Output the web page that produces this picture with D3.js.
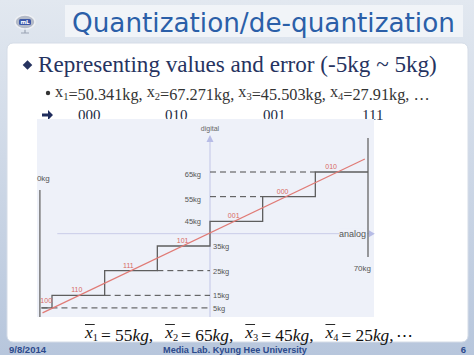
<!DOCTYPE html>
<html>
<head>
<meta charset="utf-8">
<script src="https://cdn.jsdelivr.net/npm/d3@7"></script>
<style>
  body { margin: 0; background: #fff; }
  svg { display: block; }
</style>
</head>
<body>
<svg id="slide" width="474" height="355"></svg>
<script>
const width = 474,
  height = 355;

// quantizer steps: analog interval (kg) covered by each level
const stepFrom = [8, 10, 20, 30, 40, 50, 60];
const stepTo = [10, 20, 30, 40, 50, 60, 70];
// where each level is drawn on the digital axis (the 5kg one sits higher in the picture)
const levelPos = [9.9, 15, 25, 35, 45, 55, 65];
const levelNames = ["5kg", "15kg", "25kg", "35kg", "45kg", "55kg", "65kg"];
const codes = ["100", "110", "111", "101", "001", "000", "010"];
const codeAt = [8.9, 14.7, 24.5, 34.8, 44.5, 53.8, 63];
// dashed guides from a level to the digital axis
const dashFrom = [8, 20, 30, null, null, 40, 40];
const dashTo = [40, 40, 40, null, null, 50, 60];
const ideal = [
  [8.2, 7.9],
  [69.4, 70.3],
];
const axisCross = 40;

const samples = ["50.341", "67.271", "45.503", "27.91"];
const sampleCodes = ["000", "010", "001", "111"];
const means = ["55", "65", "45", "25"];

const svg = d3.select("#slide");

// fit a text element to a target width by scaling its font size
function fitWidth(sel, w) {
  const fs = parseFloat(sel.attr("font-size"));
  const cur = sel.node().getComputedTextLength();
  sel.attr("font-size", (fs * w) / cur);
}

// ---- slide frame ----
const defs = svg.append("defs");
const bg = defs
  .append("linearGradient")
  .attr("id", "bg")
  .attr("x1", 0)
  .attr("y1", 0)
  .attr("x2", 0)
  .attr("y2", 1);
bg.append("stop").attr("offset", 0).attr("stop-color", "#e2e8f0");
bg.append("stop").attr("offset", 1).attr("stop-color", "#b7c6dc");

svg
  .append("rect")
  .attr("width", width)
  .attr("height", height)
  .attr("fill", "url(#bg)");

svg
  .append("rect")
  .attr("x", 65)
  .attr("y", 5)
  .attr("width", 398)
  .attr("height", 32)
  .attr("fill", "#f1f4f8");

svg
  .append("rect")
  .attr("x", 7)
  .attr("y", 43)
  .attr("width", 461)
  .attr("height", 299)
  .attr("rx", 6)
  .attr("fill", "#fff")
  .attr("stroke", "#d5dce7");

// logo
const logo = svg.append("g").attr("transform", "translate(25,22)");
logo
  .append("path")
  .attr("d", "M0,6 L0,11 M-4,11 L4,11")
  .attr("stroke", "#9aa3b3")
  .attr("stroke-width", 1.2);
logo
  .append("ellipse")
  .attr("rx", 10)
  .attr("ry", 7)
  .attr("fill", "#b3bac8")
  .attr("stroke", "#eef0f4")
  .attr("stroke-width", 1.5);
logo
  .append("rect")
  .attr("x", -6)
  .attr("y", -3)
  .attr("width", 12)
  .attr("height", 6)
  .attr("rx", 1.5)
  .attr("fill", "#3d58a8");
logo
  .append("text")
  .attr("y", 2.2)
  .attr("text-anchor", "middle")
  .attr("font-family", "DejaVu Sans")
  .attr("font-size", 5.5)
  .attr("font-weight", "bold")
  .attr("fill", "#fff")
  .text("mL");

// title
const title = svg
  .append("text")
  .attr("x", 72)
  .attr("y", 32)
  .attr("font-family", "DejaVu Sans")
  .attr("font-size", 26)
  .attr("fill", "#2b5fa8")
  .text("Quantization/de-quantization");
fitWidth(title, 383);

// ---- bullet lines ----
svg
  .append("path")
  .attr("transform", "translate(27.5,65) rotate(45)")
  .attr("d", d3.symbol(d3.symbolSquare, 46)())
  .attr("fill", "#26335f");

const line1 = svg
  .append("text")
  .attr("x", 38)
  .attr("y", 72)
  .attr("font-family", "Liberation Serif")
  .attr("font-size", 20)
  .attr("fill", "#26335f")
  .text("Representing values and error (-5kg ~ 5kg)");
fitWidth(line1, 399);

svg
  .append("circle")
  .attr("cx", 48)
  .attr("cy", 93)
  .attr("r", 2.2)
  .attr("fill", "#333");

const line2 = svg
  .append("text")
  .attr("x", 55)
  .attr("y", 97)
  .attr("font-family", "Liberation Serif")
  .attr("font-size", 14)
  .attr("fill", "#333");
samples.forEach((v, i) => {
  line2.append("tspan").attr("dy", i ? -3 : 0).text("x");
  line2
    .append("tspan")
    .attr("dy", 3)
    .attr("font-size", "0.65em")
    .text(i + 1);
  line2
    .append("tspan")
    .attr("dy", 0)
    .text("=" + v + "kg," + (i < samples.length - 1 ? " " : ""));
});
line2.append("tspan").text(" \u2026");
fitWidth(line2, 375);

// arrow and codes row
svg
  .append("path")
  .attr("d", "M42,113.5 L48,113.5 L48,110 L53,115 L48,120 L48,116.5 L42,116.5 Z")
  .attr("fill", "#1f2c5c");

const codeTab = d3.scaleOrdinal().domain(sampleCodes).range([78, 165, 263, 362]);
svg
  .append("g")
  .selectAll("text")
  .data(sampleCodes)
  .join("text")
  .attr("x", (d) => codeTab(d))
  .attr("y", 119.5)
  .attr("font-family", "Liberation Serif")
  .attr("font-size", 15)
  .attr("fill", "#222b45")
  .text((d) => d);

// ---- the quantizer diagram ----
const x = d3.scaleLinear().domain([10, 70]).range([52, 368]);
const y = d3.scaleLinear().domain([5, 65]).range([320, 172]);

const chart = svg.append("g");
chart
  .append("rect")
  .attr("x", 37)
  .attr("y", 119)
  .attr("width", 337)
  .attr("height", 198)
  .attr("fill", "#eef1f9");

const axisColor = "#c9cde9";
// digital (vertical) axis
chart
  .append("line")
  .attr("x1", x(axisCross))
  .attr("x2", x(axisCross))
  .attr("y1", y(6.2))
  .attr("y2", y(77.5))
  .attr("stroke", axisColor)
  .attr("stroke-width", 1.2);
chart
  .append("path")
  .attr("d", `M${x(axisCross)},${y(80)} l-3.5,7 l7,0 Z`)
  .attr("fill", "#b7bce6");
// analog (horizontal) axis
chart
  .append("line")
  .attr("x1", x(11))
  .attr("x2", x(70.3))
  .attr("y1", y(axisCross))
  .attr("y2", y(axisCross))
  .attr("stroke", axisColor)
  .attr("stroke-width", 1);
chart
  .append("path")
  .attr("d", `M${x(71.3)},${y(axisCross)} l-6,-3.5 l0,7 Z`)
  .attr("fill", "#b7bce6");

// frame lines at 0kg and 70kg
chart
  .append("line")
  .attr("x1", x(7.7))
  .attr("x2", x(7.7))
  .attr("y1", y(57.7))
  .attr("y2", y(6.2))
  .attr("stroke", "#7a7a7a")
  .attr("stroke-width", 1.5);
chart
  .append("line")
  .attr("x1", x(70))
  .attr("x2", x(70))
  .attr("y1", y(78.8))
  .attr("y2", y(30.5))
  .attr("stroke", "#666")
  .attr("stroke-width", 1.3);

const labelFont = "Liberation Sans";
chart
  .append("text")
  .attr("x", x(7.7) - 3)
  .attr("y", y(57.7) - 9)
  .attr("font-family", labelFont)
  .attr("font-size", 8)
  .attr("fill", "#555")
  .text("0kg");
chart
  .append("text")
  .attr("x", x(70) + 3)
  .attr("y", y(30.5) + 14)
  .attr("text-anchor", "end")
  .attr("font-family", labelFont)
  .attr("font-size", 8)
  .attr("fill", "#555")
  .text("70kg");
chart
  .append("text")
  .attr("x", x(axisCross))
  .attr("y", 131)
  .attr("text-anchor", "middle")
  .attr("font-family", labelFont)
  .attr("font-size", 7)
  .attr("fill", "#666")
  .text("digital");
chart
  .append("rect")
  .attr("x", 339)
  .attr("y", y(axisCross) - 5)
  .attr("width", 28)
  .attr("height", 10)
  .attr("fill", "#eef1f9");
chart
  .append("text")
  .attr("x", 366)
  .attr("y", y(axisCross) + 3)
  .attr("text-anchor", "end")
  .attr("font-family", labelFont)
  .attr("font-size", 9)
  .attr("fill", "#555")
  .text("analog");

// dashed guides
const guides = d3.range(levelPos.length).filter((i) => dashFrom[i] != null);
chart
  .append("g")
  .selectAll("line")
  .data(guides)
  .join("line")
  .attr("x1", (i) => x(dashFrom[i]))
  .attr("x2", (i) => x(dashTo[i]))
  .attr("y1", (i) => y(levelPos[i]))
  .attr("y2", (i) => y(levelPos[i]))
  .attr("stroke", "#4a4a4a")
  .attr("stroke-width", 1)
  .attr("stroke-dasharray", "6,4");

// level labels
chart
  .append("g")
  .selectAll("text")
  .data(levelNames)
  .join("text")
  .attr("x", (d, i) => (levelPos[i] < axisCross ? x(axisCross) + 3 : x(axisCross) - 9))
  .attr("y", (d, i) => y(levelPos[i]) + (levelPos[i] > 50 ? 5 : 3))
  .attr("text-anchor", (d, i) => (levelPos[i] < axisCross ? "start" : "end"))
  .attr("font-family", labelFont)
  .attr("font-size", 7.5)
  .attr("fill", "#555")
  .text((d) => d);

// staircase
const stairPts = stepFrom.map((f, i) => [f, levelPos[i]]);
stairPts.push([stepTo[stepTo.length - 1], levelPos[levelPos.length - 1]]);
chart
  .append("path")
  .datum(stairPts)
  .attr(
    "d",
    d3
      .line()
      .x((d) => x(d[0]))
      .y((d) => y(d[1]))
      .curve(d3.curveStepAfter)
  )
  .attr("fill", "none")
  .attr("stroke", "#5e5e5e")
  .attr("stroke-width", 1.3);

// ideal (unquantized) line
chart
  .append("path")
  .datum(ideal)
  .attr(
    "d",
    d3
      .line()
      .x((d) => x(d[0]))
      .y((d) => y(d[1]))
  )
  .attr("fill", "none")
  .attr("stroke", "#e07b76")
  .attr("stroke-width", 1.2);

// code words
chart
  .append("g")
  .selectAll("text")
  .data(codes)
  .join("text")
  .attr("x", (d, i) => x(codeAt[i]))
  .attr("y", (d, i) => y(levelPos[i]) - (i === 0 ? 4.5 : 3))
  .attr("text-anchor", "middle")
  .attr("font-family", labelFont)
  .attr("font-size", 7)
  .attr("fill", "#d86a64")
  .text((d) => d);

// ---- de-quantized values ----
const formula = svg
  .append("text")
  .attr("x", 85)
  .attr("y", 338)
  .attr("font-family", "Liberation Serif")
  .attr("font-size", 16)
  .attr("fill", "#111");
const xSpans = [];
means.forEach((m, i) => {
  const xs = formula
    .append("tspan")
    .attr("dx", i ? 12 : 0)
    .attr("dy", i ? -3 : 0)
    .attr("font-style", "italic")
    .text("x");
  xSpans.push(xs.node());
  formula
    .append("tspan")
    .attr("dy", 3)
    .attr("font-size", "0.6em")
    .text(i + 1);
  formula.append("tspan").attr("dx", 3).text("= " + m);
  formula.append("tspan").attr("font-style", "italic").text("kg");
  formula.append("tspan").text(",");
});
formula.append("tspan").attr("dx", 2).text("\u22ef");
fitWidth(formula, 278);
xSpans.forEach((n) => {
  const r = n.getExtentOfChar(0);
  svg
    .append("line")
    .attr("x1", r.x)
    .attr("x2", r.x + r.width + 2)
    .attr("y1", 324.5)
    .attr("y2", 324.5)
    .attr("stroke", "#111")
    .attr("stroke-width", 0.9);
});

// ---- footer ----
const footColor = "#2c4a8c";
svg
  .append("text")
  .attr("x", 9)
  .attr("y", 353)
  .attr("font-family", "Liberation Sans")
  .attr("font-weight", "bold")
  .attr("font-size", 9.5)
  .attr("fill", footColor)
  .text("9/8/2014");
const foot = svg
  .append("text")
  .attr("x", 235)
  .attr("y", 353)
  .attr("text-anchor", "middle")
  .attr("font-family", "Liberation Sans")
  .attr("font-weight", "bold")
  .attr("font-size", 9.5)
  .attr("fill", footColor)
  .text("Media Lab. Kyung Hee University");
fitWidth(foot, 144);
svg
  .append("text")
  .attr("x", 466)
  .attr("y", 353)
  .attr("text-anchor", "end")
  .attr("font-family", "Liberation Sans")
  .attr("font-weight", "bold")
  .attr("font-size", 9.5)
  .attr("fill", footColor)
  .text("6");
</script>
</body>
</html>
